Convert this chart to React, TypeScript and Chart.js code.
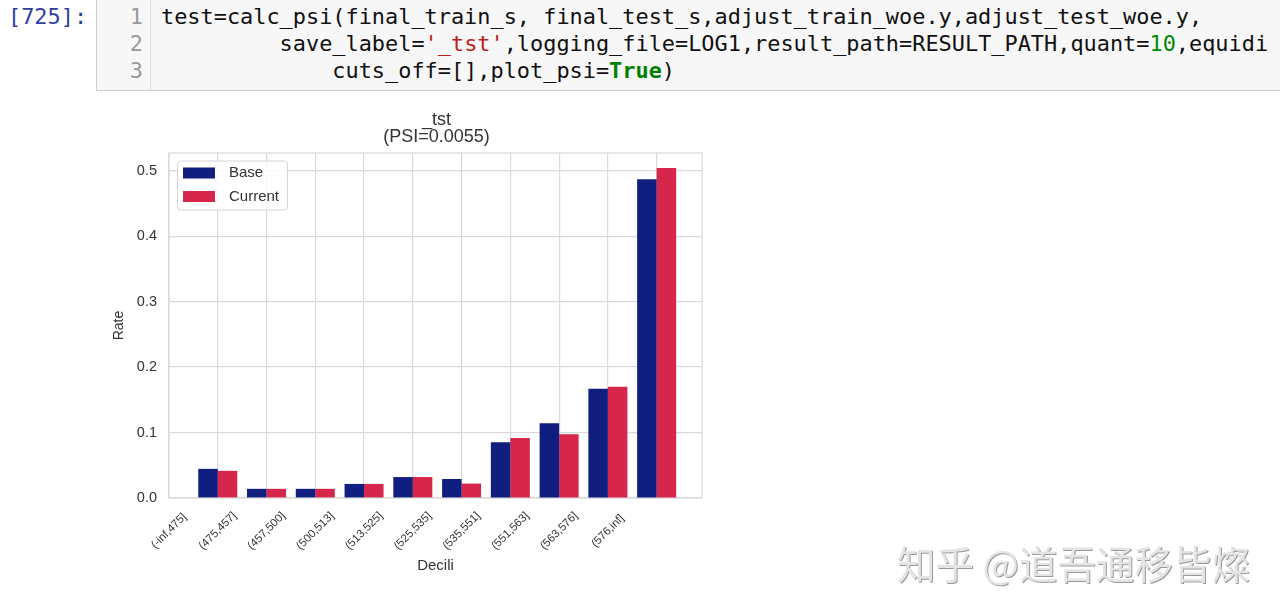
import React, { useEffect, useRef } from "react";
import { Chart, registerables } from "chart.js";

Chart.register(...registerables);

// ---- data ----
const deciliLabels = [
  "(-inf,475]",
  "(475,457]",
  "(457,500]",
  "(500,513]",
  "(513,525]",
  "(525,535]",
  "(535,551]",
  "(551,563]",
  "(563,576]",
  "(576,inf]",
];
const baseRates = [0.0445, 0.014, 0.014, 0.0215, 0.032, 0.029, 0.0852, 0.114, 0.167, 0.487];
const currentRates = [0.0415, 0.014, 0.014, 0.0215, 0.032, 0.022, 0.0917, 0.0975, 0.17, 0.504];
const seriesNames = ["Base", "Current"];
const titleLines = ["_tst", "(PSI=0.0055)"];
const xAxisTitle = "Decili";
const yAxisTitle = "Rate";

const BASE_COLOR = "#101e80";
const CURRENT_COLOR = "#d7264b";
const TEXT_COLOR = "#333333";
const GRID_COLOR = "#dadada";
const FONT = "'Liberation Sans', Arial, sans-serif";

const overlayPlugin = {
  id: "mplOverlay",
  beforeDatasetsDraw(chart: any) {
    const { ctx, chartArea } = chart;
    const { left, top, right, bottom } = chartArea;
    ctx.save();
    ctx.strokeStyle = GRID_COLOR;
    ctx.lineWidth = 1.2;
    ctx.strokeRect(left, top, right - left, bottom - top);
    ctx.restore();
  },
  afterDraw(chart: any) {
    const { ctx, chartArea } = chart;
    const { left, top, right, bottom } = chartArea;
    const cx = (left + right) / 2 + 1;
    ctx.save();
    // title
    ctx.fillStyle = TEXT_COLOR;
    ctx.textAlign = "center";
    ctx.textBaseline = "middle";
    ctx.font = `18px ${FONT}`;
    ctx.fillText(titleLines[0], cx, top - 33);
    ctx.fillText(titleLines[1], cx, top - 15.5);

    // rotated x tick labels (centered on ticks, one step left of bars)
    const xs = chart.scales.x;
    ctx.font = `11.3px ${FONT}`;
    deciliLabels.forEach((lab, i) => {
      const px = xs.getPixelForValue(i - 1);
      ctx.save();
      ctx.translate(px, bottom + 33);
      ctx.rotate(-Math.PI / 4);
      ctx.textAlign = "center";
      ctx.textBaseline = "middle";
      ctx.fillText(lab, 0, 0);
      ctx.restore();
    });

    // legend box
    const lx = left + 8.5;
    const ly = top + 8;
    const lw = 110;
    const lh = 49;
    ctx.beginPath();
    const r = 3;
    ctx.moveTo(lx + r, ly);
    ctx.lineTo(lx + lw - r, ly);
    ctx.quadraticCurveTo(lx + lw, ly, lx + lw, ly + r);
    ctx.lineTo(lx + lw, ly + lh - r);
    ctx.quadraticCurveTo(lx + lw, ly + lh, lx + lw - r, ly + lh);
    ctx.lineTo(lx + r, ly + lh);
    ctx.quadraticCurveTo(lx, ly + lh, lx, ly + lh - r);
    ctx.lineTo(lx, ly + r);
    ctx.quadraticCurveTo(lx, ly, lx + r, ly);
    ctx.closePath();
    ctx.fillStyle = "rgba(255,255,255,0.85)";
    ctx.fill();
    ctx.strokeStyle = "#d4d4d4";
    ctx.lineWidth = 1;
    ctx.stroke();

    const colors = [BASE_COLOR, CURRENT_COLOR];
    ctx.font = `15px ${FONT}`;
    ctx.textAlign = "left";
    ctx.textBaseline = "middle";
    seriesNames.forEach((name, i) => {
      const cy = ly + 12 + i * 23.5;
      ctx.fillStyle = colors[i];
      ctx.fillRect(lx + 5.5, cy - 5.5, 32, 11);
      ctx.fillStyle = TEXT_COLOR;
      ctx.fillText(name, lx + 51.5, cy);
    });
    ctx.restore();
  },
};

function PsiChart() {
  const ref = useRef<HTMLCanvasElement | null>(null);
  useEffect(() => {
    if (!ref.current) return;
    Chart.defaults.font.family = FONT;
    const chart = new Chart(ref.current, {
      type: "bar",
      data: {
        datasets: [
          {
            label: seriesNames[0],
            data: baseRates.map((v, i) => ({ x: i, y: v })),
            backgroundColor: BASE_COLOR,
            borderWidth: 0,
          },
          {
            label: seriesNames[1],
            data: currentRates.map((v, i) => ({ x: i, y: v })),
            backgroundColor: CURRENT_COLOR,
            borderWidth: 0,
          },
        ],
      },
      options: {
        animation: false,
        responsive: false,
        devicePixelRatio: 1,
        layout: { padding: { left: 100, right: 578, top: 153, bottom: 25 } },
        datasets: { bar: { categoryPercentage: 0.8, barPercentage: 1.0, grouped: true } },
        plugins: { legend: { display: false }, title: { display: false }, tooltip: { enabled: false } },
        scales: {
          x: {
            type: "linear",
            min: -1,
            max: 9.93,
            offset: false,
            grid: { color: GRID_COLOR, lineWidth: 1.2, offset: false, drawTicks: false },
            border: { display: false },
            ticks: { display: false, stepSize: 1, includeBounds: false },
            title: {
              display: true,
              text: xAxisTitle,
              color: TEXT_COLOR,
              font: { size: 15, family: FONT },
              padding: { top: 0, bottom: 13 },
            },
            afterFit(scale: any) {
              scale.height = 90;
            },
          },
          y: {
            type: "linear",
            min: 0,
            max: 0.527,
            grid: { color: GRID_COLOR, lineWidth: 1.2, drawTicks: false },
            border: { display: false },
            ticks: {
              stepSize: 0.1,
              includeBounds: false,
              padding: 12,
              color: TEXT_COLOR,
              font: { size: 14.5, family: FONT },
              callback: (v: any) => Number(v).toFixed(1),
            },
            title: {
              display: true,
              text: yAxisTitle,
              color: TEXT_COLOR,
              font: { size: 14, family: FONT },
              padding: { top: 11, bottom: 0 },
            },
            afterFit(scale: any) {
              scale.width = 69;
            },
          },
        },
      },
      plugins: [overlayPlugin],
    } as any);
    return () => chart.destroy();
  }, []);
  return (
    <canvas
      ref={ref}
      width={1280}
      height={613}
      style={{ position: "absolute", left: 0, top: 0, width: 1280, height: 613 }}
    />
  );
}

const MONO = "'DejaVu Sans Mono', 'Liberation Mono', monospace";
const codeStyle: React.CSSProperties = {
  fontFamily: MONO,
  fontSize: 21.9,
  lineHeight: "27px",
  whiteSpace: "pre",
};

export default function App() {
  return (
    <div
      style={{
        position: "absolute",
        left: 0,
        top: 0,
        width: 1280,
        height: 613,
        overflow: "hidden",
        background: "#ffffff",
      }}
    >
      <div style={{ ...codeStyle, position: "absolute", left: 8, top: 3, color: "#303f9f" }}>[725]:</div>
      <div
        style={{
          position: "absolute",
          left: 96,
          top: -2,
          width: 1300,
          height: 93,
          border: "1px solid #cfcfcf",
          background: "#f7f7f7",
          boxSizing: "border-box",
        }}
      >
        <div
          style={{
            ...codeStyle,
            position: "absolute",
            left: 0,
            top: 4,
            width: 46,
            textAlign: "right",
            color: "#999999",
          }}
        >
          {"1\n2\n3"}
        </div>
        <div
          style={{
            position: "absolute",
            left: 53,
            top: 0,
            bottom: 0,
            width: 1,
            background: "#dddddd",
          }}
        />
        <div style={{ ...codeStyle, position: "absolute", left: 64, top: 4, color: "#111111" }}>
          {"test=calc_psi(final_train_s, final_test_s,adjust_train_woe.y,adjust_test_woe.y,\n"}
          {"         save_label="}
          <span style={{ color: "#ba2121" }}>{"'_tst'"}</span>
          {",logging_file=LOG1,result_path=RESULT_PATH,quant="}
          <span style={{ color: "#008800" }}>10</span>
          {",equidi\n"}
          {"             cuts_off=[],plot_psi="}
          <span style={{ color: "#008000", fontWeight: "bold" }}>True</span>
          {")"}
        </div>
      </div>
      <PsiChart />
      <div
        style={{
          position: "absolute",
          left: 897,
          top: 535,
          fontFamily: "'Noto Sans CJK SC', sans-serif",
          fontSize: 38.5,
          lineHeight: "54px",
          color: "#e4e4e4",
          textShadow: "1px 1px 0 #9a9a9a",
          whiteSpace: "nowrap",
        }}
      >
        知乎 @道吾通移皆燦
      </div>
    </div>
  );
}
